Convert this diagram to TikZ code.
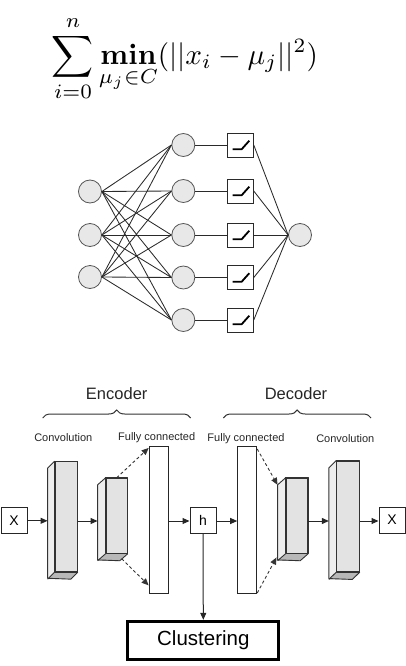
\documentclass[tikz,border=0pt]{standalone}
\usepackage[no-math]{fontspec}
\usepackage{graphicx}
\newfontfamily\arialf{Liberation Sans}
\usetikzlibrary{arrows.meta,decorations.pathreplacing,calc}
\definecolor{nfill}{HTML}{E8E8E8}
\definecolor{nline}{HTML}{555555}
\definecolor{eline}{HTML}{2A2A2A}
\definecolor{frontc}{HTML}{E3E3E3}
\definecolor{sidec}{HTML}{EEEEEE}
\definecolor{botc}{HTML}{B8B8B8}
\begin{document}
\begin{tikzpicture}[x=1pt,y=-1pt,
  neuron/.style={circle,draw=nline,fill=nfill,line width=0.8pt,minimum size=23pt,inner sep=0pt},
  relubox/.style={draw=eline,fill=white,line width=0.9pt,minimum width=26pt,minimum height=24pt,inner sep=0pt},
  nnline/.style={draw=eline,line width=0.85pt},
  arr/.style={draw=black!85,line width=1pt,-{Triangle[length=7pt,width=6pt]}},
  dasharr/.style={draw=black!80,line width=0.9pt,dash pattern=on 3pt off 2.5pt,-{Triangle[length=7pt,width=6pt]}},
  front/.style={draw=black!80,fill=frontc,line width=0.9pt,inner sep=0pt},
  edge3d/.style={draw=black!80,line width=0.9pt,line join=round},
  fcbox/.style={draw=black!85,fill=white,line width=1pt,inner sep=0pt,minimum width=19pt,minimum height=147pt},
  iobox/.style={draw=black!85,fill=white,line width=1pt,minimum width=26pt,minimum height=26pt,inner sep=0pt,font=\arialf\fontsize{14}{16}\selectfont},
  lbl/.style={font=\arialf\fontsize{11}{13}\selectfont,text=black!85,inner sep=0pt},
  title/.style={font=\arialf\fontsize{16.5}{19}\selectfont,text=black!85,inner sep=0pt},
  brc/.style={draw=black!80,line width=1pt,decorate,decoration={brace,amplitude=8pt,aspect=0.5}},
  clbox/.style={draw=black,line width=3pt,fill=white,minimum width=151pt,minimum height=38pt,font=\arialf\fontsize{20.5}{23}\selectfont}
]
\useasboundingbox (0,0) rectangle (406,666);

% formula
\node[inner sep=0pt] (formula) at (185,59) {\resizebox{266pt}{!}{$\displaystyle\sum_{i=0}^{n}\mathop{\mathbf{min}}\limits_{\mu_j\in C}(||x_i-\mu_j||^2)$}};

% neural network
\node[neuron] (i1) at (90,191.5) {};
\node[neuron] (i2) at (90,235) {};
\node[neuron] (i3) at (90,277) {};
\foreach \k/\y in {1/145,2/191,3/235,4/277.5,5/320}{
  \node[neuron] (h\k) at (183.3,\y) {};
  \node[relubox] (r\k) at (240.3,\y) {};
}
\node[neuron] (o) at (300,235) {};
\foreach \a in {1,2,3}{
  \foreach \b in {1,...,5}{
    \draw[nnline] (i\a.east) -- (h\b.west);
  }
}
\foreach \k in {1,...,5}{
  \draw[nnline] (h\k.east) -- (r\k.west);
  \draw[nnline] (r\k.east) -- (o.west);
  \draw[line width=1.8pt,black] ($(r\k.center)+(-7.7,4.3)$) -- ($(r\k.center)+(1.3,4.3)$) -- ($(r\k.center)+(9,-4.3)$);
}

% autoencoder
\coordinate (row) at (0,521);
\node[iobox] (xin) at (14,520.8) {X};
\node[iobox] (hh) at (203,520) {h};
\node[iobox] (xout) at (392,520) {X};

% conv block 1 (encoder)
\node[front,minimum width=22.3pt,minimum height=110pt] (c1) at (66.15,516.7) {};
\fill[sidec] (c1.north west) -- ++(-7,7) -- ++(0,110) -- (c1.south west) -- cycle;
\fill[botc] (c1.south west) -- ++(-7,7) -- ($(c1.south east)+(-7,7)$) -- (c1.south east) -- cycle;
\draw[edge3d] (c1.north west) -- ++(-7,7) -- ++(0,110) -- ($(c1.south east)+(-7,7)$) -- (c1.south east);
\draw[edge3d] (c1.south west) -- ++(-7,7);
\draw[edge3d] (c1.north west) rectangle (c1.south east);
\coordinate (c1b) at ($(c1.west)+(-7,0)$);

% conv block 2 (encoder)
\node[front,minimum width=21.3pt,minimum height=75pt] (c2) at (116.65,515.8) {};
\fill[sidec] (c2.north west) -- ++(-8,7) -- ++(0,75) -- (c2.south west) -- cycle;
\fill[botc] (c2.south west) -- ++(-8,7) -- ($(c2.south east)+(-8,7)$) -- (c2.south east) -- cycle;
\draw[edge3d] (c2.north west) -- ++(-8,7) -- ++(0,75) -- ($(c2.south east)+(-8,7)$) -- (c2.south east);
\draw[edge3d] (c2.south west) -- ++(-8,7);
\draw[edge3d] (c2.north west) rectangle (c2.south east);
\coordinate (c2b) at ($(c2.west)+(-8,0)$);

% fc encoder
\node[fcbox] (fe) at (158.65,519.65) {};
% fc decoder
\node[fcbox] (fd) at (247.2,519.65) {};

% conv block 1 (decoder)
\node[front,minimum width=21.7pt,minimum height=75pt] (d1) at (296.85,515.8) {};
\fill[sidec] (d1.north west) -- ++(-8,7) -- ++(0,75) -- (d1.south west) -- cycle;
\fill[botc] (d1.south west) -- ++(-8,7) -- ($(d1.south east)+(-8,7)$) -- (d1.south east) -- cycle;
\draw[edge3d] (d1.north west) -- ++(-8,7) coordinate (d1tl) -- ++(0,75) coordinate (d1bl) -- ($(d1.south east)+(-8,7)$) -- (d1.south east);
\draw[edge3d] (d1.south west) -- ++(-8,7);
\draw[edge3d] (d1.north west) rectangle (d1.south east);
\coordinate (d1b) at ($(d1.west)+(-8,0)$);

% conv block 2 (decoder)
\node[front,minimum width=22.6pt,minimum height=110.7pt] (d2) at (348,516.35) {};
\fill[sidec] (d2.north west) -- ++(-7.4,7.3) -- ++(0,110.7) -- (d2.south west) -- cycle;
\fill[botc] (d2.south west) -- ++(-7.4,7.3) -- ($(d2.south east)+(-7.4,7.3)$) -- (d2.south east) -- cycle;
\draw[edge3d] (d2.north west) -- ++(-7.4,7.3) -- ++(0,110.7) -- ($(d2.south east)+(-7.4,7.3)$) -- (d2.south east);
\draw[edge3d] (d2.south west) -- ++(-7.4,7.3);
\draw[edge3d] (d2.north west) rectangle (d2.south east);
\coordinate (d2b) at ($(d2.west)+(-7.4,0)$);

% arrows
\draw[arr] (xin.east) -- (xin.east -| c1b);
\draw[arr] (c1.east |- row) -- (c2b |- row);
\draw[arr] (fe.east |- row) -- (hh.west |- row);
\draw[arr] (hh.east |- row) -- (fd.west |- row);
\draw[arr] (d1.east |- row) -- (d2b |- row);
\draw[arr] (d2.east |- row) -- (xout.west |- row);

% dashed arrows
\draw[dasharr] (c2.north) -- ($(fe.north west)+(0,2.3)$);
\draw[dasharr] ($(c2.south)+(5,5)$) -- ($(fe.south west)+(0,-8.3)$);
\draw[dasharr] ($(fd.north east)+(0,3.3)$) -- (d1tl);
\draw[dasharr] ($(fd.south east)+(0,-0.6)$) -- ($(d1bl)+(-1,-2.4)$);

% labels
\node[title] (enc) at (116.7,393.3) {Encoder};
\node[title] (dec) at (296,393.3) {Decoder};
\coordinate (eb1) at (42.7,418);
\coordinate (eb2) at (190.7,418);
\coordinate (db1) at (223.3,418);
\coordinate (db2) at (371,418);
\draw[brc] (eb1) -- (eb2);
\draw[brc] (db1) -- (db2);
\node[lbl] (lconv1) at (63.3,437.7) {Convolution};
\node[lbl] (lfc1) at (156.7,437.7) {Fully connected};
\node[lbl] (lfc2) at (246,439) {Fully connected};
\node[lbl] (lconv2) at (345.3,439) {Convolution};

% clustering
\node[clbox] (cl) at (203.3,640.3) {Clustering};
\draw[draw=black!85,line width=1pt,-{Triangle[length=7pt,width=6pt]}] (hh.south) -- (cl.north);
\end{tikzpicture}
\end{document}
